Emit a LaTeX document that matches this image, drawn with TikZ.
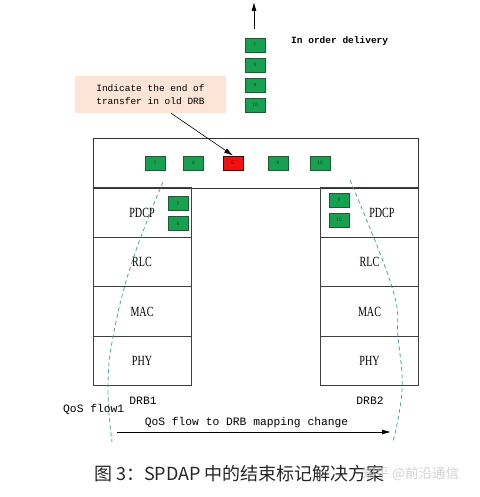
\documentclass[tikz,border=0pt]{standalone}
\usepackage{fontspec}
\setmainfont{Liberation Serif}
\setmonofont{Liberation Mono}
\newfontfamily\cjk{Noto Sans CJK SC}
\usetikzlibrary{arrows.meta}
\definecolor{pktgreen}{HTML}{17A04F}
\definecolor{pktedge}{HTML}{1E5A36}
\definecolor{pktred}{HTML}{F21010}
\definecolor{notefill}{HTML}{FCE4D6}
\definecolor{flowteal}{HTML}{4FA39A}
\newcommand{\condtxt}[1]{\scalebox{0.72}[1]{#1}}
\tikzset{
  pkt/.style={draw=pktedge, fill=pktgreen, line width=0.8pt, minimum width=20pt, minimum height=14pt, inner sep=0pt, font=\sffamily\fontsize{5}{5}\selectfont, text=black!70!green},
  pktE/.style={pkt, fill=pktred, draw=black!70!red, text=black!60!red},
  layer/.style={draw=black!75, line width=0.9pt, minimum width=98pt, minimum height=49.5pt, inner sep=0pt, font=\fontsize{14}{14}\selectfont},
  monotxt/.style={font=\ttfamily\fontsize{11.3}{12}\selectfont, inner sep=0pt},
  flow/.style={draw=flowteal, dashed, dash pattern=on 4pt off 3pt, line width=0.8pt},
  arr/.style={-{Latex[length=9pt,width=5pt]}, line width=0.8pt}
}
\begin{document}
\begin{tikzpicture}[x=1pt,y=-1pt]
\useasboundingbox (0,0) rectangle (479,497);
% top box
\node[draw=black!80, line width=0.9pt, minimum width=325pt, minimum height=50pt, inner sep=0pt] (top) at (255.5,163) {};
% stacks
\node[layer] (pdcp1) at (142,212.5) {\condtxt{PDCP}};
\node[layer] (rlc1) at (142,262) {\condtxt{RLC}};
\node[layer] (mac1) at (142,311.5) {\condtxt{MAC}};
\node[layer] (phy1) at (142,361) {\condtxt{PHY}};
\node[layer] (pdcp2) at (369.5,212.5) {\phantom{MM}\condtxt{PDCP}};
\node[layer] (rlc2) at (369.5,262) {\condtxt{RLC}};
\node[layer] (mac2) at (369.5,311.5) {\condtxt{MAC}};
\node[layer] (phy2) at (369.5,361) {\condtxt{PHY}};
% packets in top box
\node[pkt] (t7) at (155,163) {7};
\node[pkt] (t8) at (193.5,163) {8};
\node[pktE] (tE) at (233,163) {E};
\node[pkt] (t9) at (278,163) {9};
\node[pkt] (t10) at (320,163) {10};
% packets in PDCP
\node[pkt] (l7) at (178,203.5) {7};
\node[pkt] (l8) at (178,223.5) {8};
\node[pkt] (r9) at (339,200) {9};
\node[pkt] (r10) at (339,220) {10};
% delivered column
\node[pkt] (d7) at (255,45) {7};
\node[pkt] (d8) at (255,65) {8};
\node[pkt] (d9) at (255,85) {9};
\node[pkt] (d10) at (255,105) {10};
\coordinate (up) at (254,2);
\coordinate (upbase) at (254,29);
\draw[arr] (upbase) -- (up);
\node[font=\ttfamily\bfseries\fontsize{9.5}{10}\selectfont, anchor=west, inner sep=0pt] (deliv) at (291,41) {In order delivery};
% note
\node[fill=notefill, minimum width=151pt, minimum height=37pt, inner sep=0pt, align=center, font=\ttfamily\fontsize{9.5}{13}\selectfont] (note) at (150.5,94.5) {Indicate the end of\\transfer in old DRB};
\draw[-{Latex[length=9pt,width=5pt]}, line width=0.6pt] (note.south -| 171,0) -- (tE.north);
% flows
\draw[flow] plot[smooth, tension=0.7] coordinates {(163,182) (132,262) (113,337) (108,390) (112,442)};
\draw[flow] plot[smooth, tension=0.7] coordinates {(350,180) (392,287) (398,337) (402,390) (393,442)};
% labels
\node[monotxt] (drb1) at (143,401) {DRB1};
\node[monotxt] (drb2) at (370,401) {DRB2};
\node[monotxt, anchor=west] (qos1) at (63,409) {QoS flow1};
\node[monotxt] (chg) at (246.5,423) {QoS flow to DRB mapping change};
\coordinate (chs) at (117,432);
\coordinate (che) at (391,432);
\draw[arr] (chs) -- (che);
% caption
\node[font=\cjk\fontsize{18}{18}\selectfont, anchor=west, inner sep=0pt, text=black!85] (cap) at (94,474) {图 3：SPDAP 中的结束标记解决方案};
\node[font=\cjk\fontsize{13.5}{14}\selectfont, anchor=west, inner sep=0pt, text=gray!40, opacity=0.9] (wm) at (362,474) {知乎 @前沿通信};
\end{tikzpicture}
\end{document}
